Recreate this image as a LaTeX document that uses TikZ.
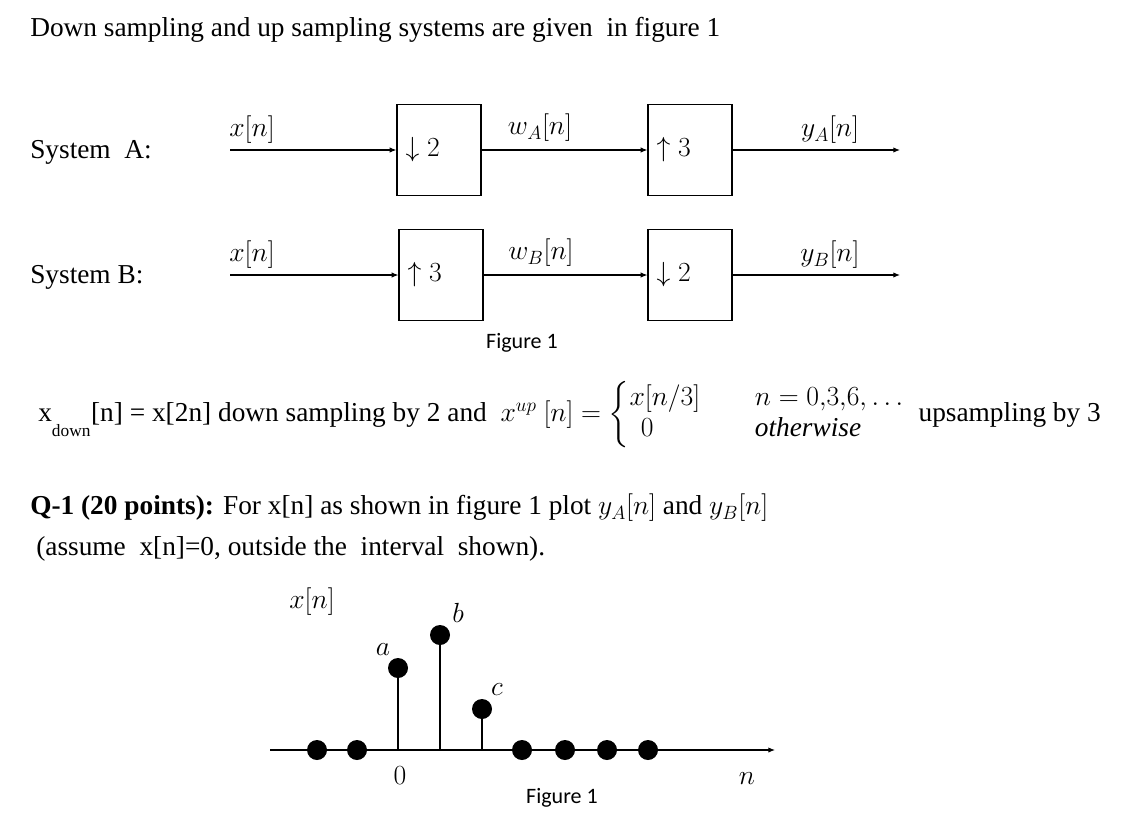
\documentclass[tikz,border=0pt]{standalone}
\usepackage{amsmath}
\usepackage{fontspec}
\setmainfont{Liberation Serif}
\newfontfamily\calib{Carlito}
\usetikzlibrary{arrows.meta}
\begin{document}
\begin{tikzpicture}[x=0.75pt,y=-0.75pt,
  blk/.style={draw,line width=0.9pt,minimum width=63pt,minimum height=68pt,text width=50pt,align=left,inner xsep=6pt,font=\fontsize{21}{24}\selectfont},
  sig/.style={line width=0.8pt,-{Latex[length=5pt,width=4pt]}},
  txt/.style={font=\fontsize{20.5}{23}\selectfont,inner sep=0pt},
  lbl/.style={font=\fontsize{19.5}{22}\selectfont,inner sep=0pt},
  dot/.style={circle,fill=black,inner sep=0pt,minimum size=15pt}]
\useasboundingbox (0,0) rectangle (1141,821);
\node[txt,anchor=west] (title) at (30,30) {Down sampling and up sampling systems are given\ \ in figure 1};
% System A
\node[txt,anchor=west] (sa) at (30,152) {System\ \ A:};
\coordinate (ain) at (230,150);
\node[blk] (a1) at (439,150) {$\downarrow 2$};
\node[blk] (a2) at (690,150) {$\uparrow 3$};
\coordinate (aout) at (900,150);
\draw[sig] (ain) -- (a1.west);
\draw[sig] (a1.east) -- (a2.west);
\draw[sig] (a2.east) -- (aout);
\node[lbl] (xa) at (252,130) {$x[n]$};
\node[lbl] (wa) at (540,128) {$w_A[n]$};
\node[lbl] (ya) at (830,130) {$y_A[n]$};
% System B
\node[txt,anchor=west] (sb) at (30,277) {System B:};
\coordinate (bin) at (230,275);
\node[blk] (b1) at (441,275) {$\uparrow 3$};
\node[blk] (b2) at (690,275) {$\downarrow 2$};
\coordinate (bout) at (900,275);
\draw[sig] (bin) -- (b1.west);
\draw[sig] (b1.east) -- (b2.west);
\draw[sig] (b2.east) -- (bout);
\node[lbl] (xb) at (252,255) {$x[n]$};
\node[lbl] (wb) at (541,253) {$w_B[n]$};
\node[lbl] (yb) at (830,255) {$y_B[n]$};
\node[font=\calib\fontsize{16.5}{19}\selectfont,inner sep=0pt] (f1) at (522,343) {Figure 1};
% equation
\node[txt,anchor=west] (eq) at (38,415) {x\textsubscript{\raisebox{-1.2ex}{\fontsize{13}{13}\selectfont down}}[n] = x[2n] down sampling by 2 and\ \ $x^{up}\ [n]=\left\{\begin{array}{@{}l@{\hspace{2.0em}}l@{}}x[n/3] & n=0{,}3{,}6,\ldots\\ \ \,0 & \mathit{otherwise}\end{array}\right.$\ \ upsampling by 3};
% Q-1
\node[txt,anchor=west] (q1) at (30,508) {\textbf{Q-1 (20 points):} For x[n] as shown in figure 1 plot $y_A[n]$ and $y_B[n]$};
\node[txt,anchor=west] (q2) at (36,549) {(assume\ \ x[n]=0, outside the\ \ interval\ \ shown).};
% stem plot
\coordinate (axl) at (270,750);
\coordinate (axr) at (775,750);
\draw[line width=0.8pt,-{Latex[length=5pt,width=4pt]}] (axl) -- (axr);
\foreach \i/\xx in {1/317,2/357,3/522,4/565,5/607,6/648} \node[dot] (z\i) at (\xx,750) {};
\node[dot] (pa) at (398,668) {};
\node[dot] (pb) at (440,635) {};
\node[dot] (pc) at (482,709) {};
\coordinate (ba) at (398,750);
\coordinate (bb) at (440,750);
\coordinate (bc) at (482,750);
\draw[line width=0.8pt] (ba) -- (pa);
\draw[line width=0.8pt] (bb) -- (pb);
\draw[line width=0.8pt] (bc) -- (pc);
\node[lbl] (la) at (383,650) {$a$};
\node[lbl] (lb) at (458,613) {$b$};
\node[lbl] (lc) at (497,690) {$c$};
\node[lbl] (lx) at (312,602) {$x[n]$};
\node[lbl] (l0) at (400,776) {$0$};
\node[lbl] (ln) at (747,779) {$n$};
\node[font=\calib\fontsize{16.5}{19}\selectfont,inner sep=0pt] (f2) at (562,798) {Figure 1};
\end{tikzpicture}
\end{document}
